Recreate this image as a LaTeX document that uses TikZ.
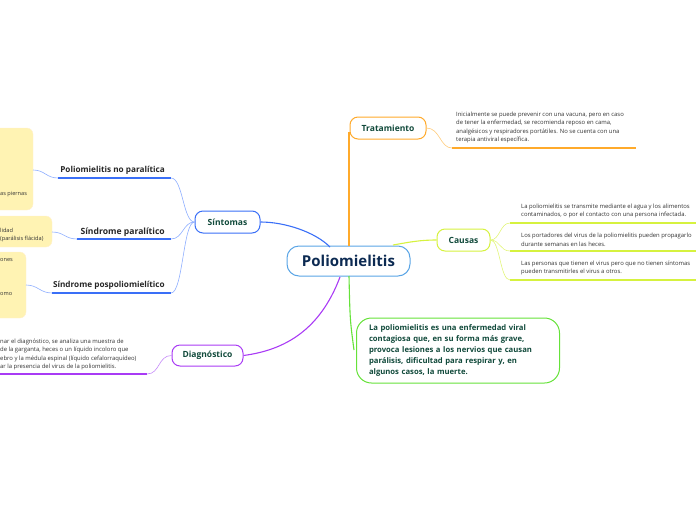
\documentclass[tikz,border=0pt]{standalone}
\usepackage{fontspec}
\setmainfont{Open Sans}
\definecolor{cblue}{HTML}{5AA5E6}
\definecolor{sblue}{HTML}{3A6FF7}
\definecolor{lblue}{HTML}{8EAEFF}
\definecolor{orng}{HTML}{FFAA2B}
\definecolor{lorng}{HTML}{FFCB7A}
\definecolor{lime}{HTML}{D6F23F}
\definecolor{llime}{HTML}{E2F57A}
\definecolor{grn}{HTML}{66E23A}
\definecolor{purp}{HTML}{A93BF5}
\definecolor{lpurp}{HTML}{C58AF8}
\definecolor{yfill}{HTML}{FFF3B3}
\definecolor{tgreen}{HTML}{114A3B}
\definecolor{navy}{HTML}{0C2A52}
\definecolor{txt}{HTML}{333333}
\tikzset{
  topic/.style={draw, rounded corners=8pt, fill=white, line width=1pt, minimum height=22pt,
    font=\bfseries\fontsize{8.5}{10}\selectfont, text=tgreen, inner sep=0pt},
  subt/.style={font=\bfseries\fontsize{8.2}{10}\selectfont, inner sep=0pt, anchor=base east, text=black!85},
  smalltxt/.style={font=\fontsize{5.9}{8.5}\selectfont, align=left, inner sep=0pt, text=txt, anchor=south west},
  uline/.style={line width=2.2pt},
  conn/.style={line width=1.1pt},
  thinc/.style={line width=0.6pt},
  ybox/.style={fill=yfill, draw=yfill!80!orange!40, rounded corners=6pt},
}
\begin{document}
\begin{tikzpicture}[x=1pt,y=-1pt]
\useasboundingbox (0,0) rectangle (696,520);
\clip (0,0) rectangle (696,520);

% central node
\node[draw=cblue, fill=white, rounded corners=12pt, line width=1pt, minimum width=123pt, minimum height=30pt,
  font=\bfseries\fontsize{15}{18}\selectfont, text=navy, inner sep=0pt] (c) at (348.5,261) {Poliomielitis};

% main topics
\node[topic, draw=sblue, minimum width=65pt] (sin) at (227.5,222) {Síntomas};
\node[topic, draw=orng, minimum width=76pt] (tra) at (388,128) {Tratamiento};
\node[topic, draw=lime, minimum width=53pt] (cau) at (463.5,240) {Causas};
\node[topic, draw=purp, minimum width=71pt, minimum height=21pt] (dia) at (207.5,355.5) {Diagnóstico};
\node[draw=grn, fill=white, rounded corners=15pt, line width=1pt, minimum width=203pt, minimum height=65pt,
  text width=178pt, align=left, inner sep=0pt, font=\bfseries\fontsize{7.7}{11}\selectfont, text=tgreen]
  (def) at (458,350.5) {La poliomielitis es una enfermedad viral\\contagiosa que, en su forma más grave,\\provoca lesiones a los nervios que causan\\parálisis, dificultad para respirar y, en\\algunos casos, la muerte.};

% main connectors
\coordinate (cb) at (330,247);
\coordinate (cor) at (349,246);
\coordinate (cl) at (393,245);
\coordinate (cg) at (349,276);
\coordinate (cp) at (340,277);
\coordinate (tra-in) at (349,132);
\coordinate (def-in) at (354,350);
\draw[conn, sblue] (cb) .. controls (315,232) and (285,222) .. (sin.east);
\draw[conn, orng] (cor) -- (tra-in);
\draw[conn, lime] (cl) .. controls (410,242) and (420,240) .. (cau.west);
\draw[conn, grn] (cg) .. controls (350,320) .. (def-in);
\draw[conn, purp] (cp) .. controls (320,330) and (285,350) .. (dia.east);

% Síntomas subtopics
\node[subt] (s1) at (165,172) {Poliomielitis no paralítica};
\node[subt, font=\bfseries\fontsize{8.6}{10}\selectfont] (s2) at (165,234.5) {Síndrome paralítico};
\node[subt] (s3) at (165,287) {Síndrome pospoliomielítico};
\coordinate (s1r) at (171,178); \coordinate (s1l) at (58,178);
\coordinate (s2r) at (171,239); \coordinate (s2l) at (77,239);
\coordinate (s3r) at (171,293); \coordinate (s3l) at (52,293);
\draw[uline, sblue] (s1l) -- (s1r);
\draw[uline, sblue] (s2l) -- (s2r);
\draw[uline, sblue] (s3l) -- (s3r);
\draw[thinc, lblue] (sin.west) .. controls (183,222) and (183,178) .. (s1r);
\draw[thinc, lblue] (sin.west) .. controls (183,222) and (183,239) .. (s2r);
\draw[thinc, lblue] (sin.west) .. controls (183,222) and (183,293) .. (s3r);

% yellow boxes (clipped at the left edge)
\path[ybox] (-30,128) rectangle (33,210);
\path[ybox] (-30,216) rectangle (52,247);
\path[ybox] (-30,252) rectangle (26,318);
\coordinate (y1) at (33,170);
\coordinate (y2) at (52,232);
\coordinate (y3) at (26,285);
\draw[thinc, lblue] (y1) .. controls (45,170) and (46,178) .. (s1l);
\draw[thinc, lblue] (y2) .. controls (64,232) and (65,239) .. (s2l);
\draw[thinc, lblue] (y3) .. controls (38,285) and (40,293) .. (s3l);
\node[smalltxt, font=\fontsize{5.6}{8.4}\selectfont] (yt1) at (0,197.5) {as piernas};
\node[smalltxt, font=\fontsize{5.6}{8.4}\selectfont] (yt2) at (0,242) {lidad\\(parálisis flácida)};
\node[smalltxt, font=\fontsize{5.6}{8.4}\selectfont] (yt3a) at (0,262) {ones};
\node[smalltxt, font=\fontsize{5.6}{8.4}\selectfont] (yt3b) at (0,296) {omo};

% Tratamiento
\coordinate (tul) at (452,148); \coordinate (tur) at (636,148);
\draw[uline, orng] (tul) -- (tur);
\draw[thinc, lorng] (tra.east) .. controls (440,128) and (440,148) .. (tul);
\node[smalltxt] (ttxt) at (456,143.5) {Inicialmente se puede prevenir con una vacuna, pero en caso\\de tener la enfermedad, se recomienda reposo en cama,\\analgésicos y respiradores portátiles. No se cuenta con una\\terapia antiviral específica.};

% Causas
\coordinate (c1l) at (510,223); \coordinate (c1r) at (700,223);
\coordinate (c2l) at (510,251); \coordinate (c2r) at (700,251);
\coordinate (c3l) at (510,280); \coordinate (c3r) at (700,280);
\draw[uline, lime] (c1l) -- (c1r);
\draw[uline, lime] (c2l) -- (c2r);
\draw[uline, lime] (c3l) -- (c3r);
\draw[thinc, llime] (cau.east) .. controls (500,240) and (500,223) .. (c1l);
\draw[thinc, llime] (cau.east) .. controls (500,240) and (500,251) .. (c2l);
\draw[thinc, llime] (cau.east) .. controls (500,240) and (500,280) .. (c3l);
\node[smalltxt] (ct1) at (521,218.5) {La poliomielitis se transmite mediante el agua y los alimentos\\contaminados, o por el contacto con una persona infectada.};
\node[smalltxt] (ct2) at (521,246.5) {Los portadores del virus de la poliomielitis pueden propagarlo\\durante semanas en las heces.};
\node[smalltxt] (ct3) at (521,275.5) {Las personas que tienen el virus pero que no tienen síntomas\\pueden transmitirles el virus a otros.};

% Diagnóstico
\coordinate (dul) at (-5,374); \coordinate (dur) at (147,374);
\draw[uline, purp] (dul) -- (dur);
\draw[thinc, lpurp] (dia.west) .. controls (158,355.5) and (160,374) .. (dur);
\node[smalltxt] (dtxt) at (0,370.5) {nar el diagnóstico, se analiza una muestra de\\de la garganta, heces o un líquido incoloro que\\ebro y la médula espinal (líquido cefalorraquídeo)\\ar la presencia del virus de la poliomielitis.};
\end{tikzpicture}
\end{document}
